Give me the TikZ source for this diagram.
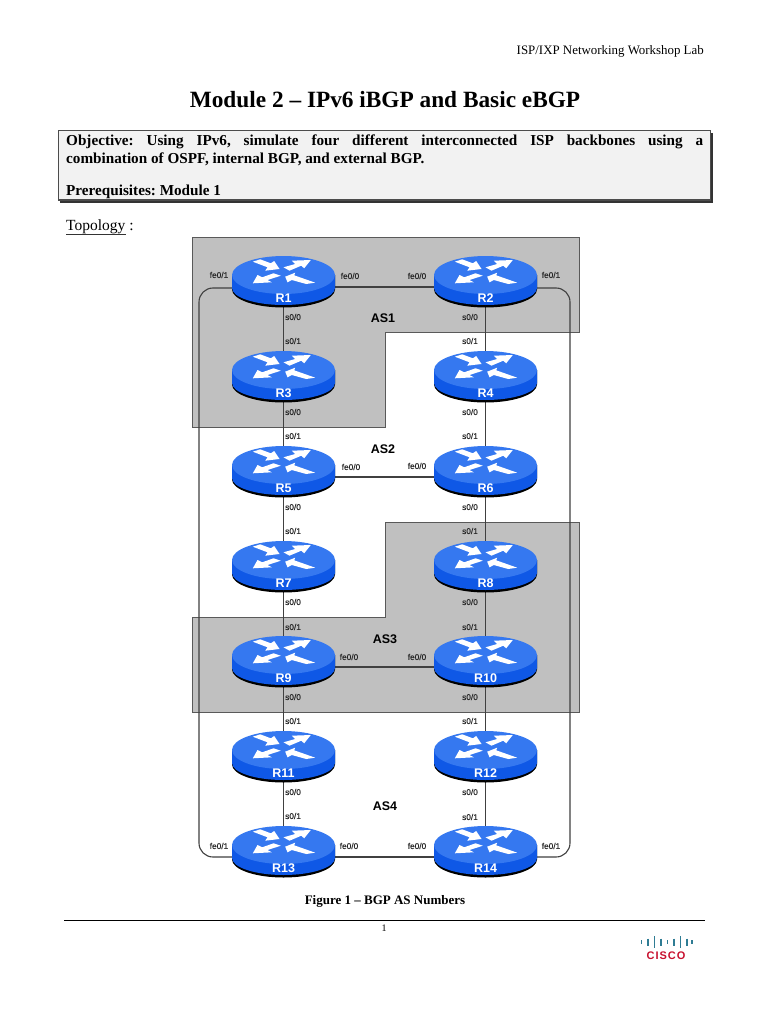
\documentclass[tikz,border=0pt]{standalone}
\usepackage{fontspec}
\setmainfont{Liberation Serif}
\setsansfont{Liberation Sans}
\newfontfamily\portfont[FakeBold=0.35]{Liberation Sans}
\newfontfamily\ciscofont[LetterSpace=9]{Liberation Sans}
\definecolor{asgray}{HTML}{C0C0C0}
\definecolor{astop}{HTML}{3578F0}
\definecolor{asside}{HTML}{0F58E6}
\definecolor{ciscoteal}{HTML}{2F7C94}
\definecolor{ciscored}{HTML}{C8102E}
\tikzset{
  hub/.style={minimum width=103pt,minimum height=50pt,inner sep=0pt},
  rlabel/.style={text=white,font=\sffamily\bfseries\fontsize{12.5}{13}\selectfont,inner sep=0pt},
  port/.style={font=\portfont\fontsize{8.3}{9}\selectfont,text=black!85,inner sep=0pt},
  asname/.style={font=\sffamily\bfseries\fontsize{12.5}{13}\selectfont,inner sep=0pt},
  asarea/.style={fill=asgray,draw=black!65,line width=1pt},
  link/.style={draw=black!75,line width=1.1pt},
  body/.style={font=\bfseries\fontsize{15.2}{16}\selectfont,inner sep=0pt,anchor=west},
  bar/.style={draw=ciscoteal,line width=1.7pt},
}
\newcommand{\drawrouter}[3]{% x, y, label
  \begin{scope}[shift={(#1,#2)}]
    \fill[black] (-51.5,13) -- (-51.5,14.5) arc[x radius=51.5,y radius=18,start angle=180,end angle=0] -- (51.5,0) -- cycle;
    \fill[asside] (-51.5,0) -- (-51.5,13) arc[x radius=51.5,y radius=17,start angle=180,end angle=0] -- (51.5,0) -- cycle;
    \fill[astop] (0,0) ellipse[x radius=51.5,y radius=19];
    \fill[white] (-30.7,-13.3) -- (-23.3,-15.7) -- (-12.7,-11.7) -- (-9.3,-14) -- (-4,-6) -- (-18.3,-4.3) -- (-16,-7.7) -- cycle;
    \fill[white] (0,-7.7) -- (11.7,-11) -- (8.3,-14.3) -- (27.3,-15) -- (20.7,-6.7) -- (17.7,-9.3) -- (6,-4.3) -- cycle;
    \fill[white] (-30.7,8.3) -- (-26,0) -- (-21.3,2.3) -- (-10,-1.7) -- (-2.7,0.7) -- (-16,5) -- (-11.7,7.3) -- cycle;
    \fill[white] (1.7,1.7) -- (11.7,-2.3) -- (10.7,0.3) -- (31.7,7.7) -- (22.7,9) -- (8.3,5) -- (4,7.3) -- cycle;
    \node[rlabel] (lbl#3) at (0,23.5) {#3};
  \end{scope}}
\begin{document}
\frenchspacing
\begin{tikzpicture}[x=1pt,y=-1pt]
\useasboundingbox (0,0) rectangle (768,1024);
\fill[white] (0,0) rectangle (768,1024);
% hub nodes
\foreach \n/\x/\y in {R1/283.5/275,R3/283.5/370,R5/283.5/465,R7/283.5/560,R9/283.5/655,R11/283.5/750,R13/283.5/845,
  R2/485.5/275,R4/485.5/370,R6/485.5/465,R8/485.5/560,R10/485.5/655,R12/485.5/750,R14/485.5/845}
  \node[hub] (\n) at (\x,\y+6) {};
% header
\node[anchor=east,inner sep=0pt,font=\fontsize{12.9}{14}\selectfont] (hdr) at (704,51) {ISP/IXP Networking Workshop Lab};
\node[inner sep=0pt,font=\bfseries\fontsize{23.3}{24}\selectfont] (title) at (385,100) {Module 2 – IPv6 iBGP and Basic eBGP};
% objective box
\fill[black!80] (60,133) rectangle (713,203);
\fill[black!70] (57.5,130.5) rectangle (711,201);
\fill[black!5] (58.5,131.5) rectangle (710,199.5);
\node[body] (obj1) at (66,142) {\makebox[637pt][s]{Objective: Using IPv6, simulate four different interconnected ISP backbones using a}};
\node[body] (obj2) at (66,159) {combination of OSPF, internal BGP, and external BGP.};
\node[body] (obj3) at (66,192) {Prerequisites: Module 1};
\node[anchor=west,inner sep=0pt,font=\fontsize{15.5}{16}\selectfont] (topo) at (66,227) {Topology :};
\draw[black!80,line width=0.6pt] (66,234) -- (126,234);
% AS areas
\path[asarea] (192,237) -- (579,237) -- (579,332) -- (385,332) -- (385,427) -- (192,427) -- cycle;
\path[asarea] (192,617) -- (385,617) -- (385,522) -- (579,522) -- (579,712) -- (192,712) -- cycle;
% ring and links
\draw[link,rounded corners=14pt] (R1.west |- 0,288) -- (199,288) -- (199,857) -- (R13.west |- 0,857);
\draw[link,rounded corners=14pt] (R2.east |- 0,288) -- (570,288) -- (570,857) -- (R14.east |- 0,857);
\draw[link] (R1.east |- 0,287) -- (R2.west |- 0,287);
\draw[link] (R5.east |- 0,477) -- (R6.west |- 0,477);
\draw[link] (R9.east |- 0,667) -- (R10.west |- 0,667);
\draw[link] (R13.east |- 0,857) -- (R14.west |- 0,857);
\foreach \a/\b in {R1/R3,R3/R5,R5/R7,R7/R9,R9/R11,R11/R13,R2/R4,R4/R6,R6/R8,R8/R10,R10/R12,R12/R14}
  \draw[link] (\a.south) -- (\b.north);
% routers
\foreach \n/\x/\y in {R1/283.5/275,R3/283.5/370,R5/283.5/465,R7/283.5/560,R9/283.5/655,R11/283.5/750,R13/283.5/845,
  R2/485.5/275,R4/485.5/370,R6/485.5/465,R8/485.5/560,R10/485.5/655,R12/485.5/750,R14/485.5/845}
  \drawrouter{\x}{\y}{\n};
% port labels
\foreach \t/\x/\y [count=\i] in {{fe0/1}/219/275,{fe0/0}/350/276,{fe0/0}/417/276,{fe0/1}/551/275,
  {fe0/0}/351/467,{fe0/0}/417/466,{fe0/0}/349/657,{fe0/0}/417/657,
  {fe0/1}/219/846,{fe0/0}/349/846,{fe0/0}/417/846,{fe0/1}/551/846}
  \node[port] (fe\i) at (\x,\y) {\t};
\foreach \y [count=\i] in {317,412,507,602,697,792}
  \node[port,anchor=west] (la\i) at (285,\y) {s0/0};
\foreach \y [count=\i] in {341,436,531,627,721,816}
  \node[port,anchor=west] (lb\i) at (285,\y) {s0/1};
\foreach \y [count=\i] in {317,412,507,602,697,792}
  \node[port] (ra\i) at (470,\y) {s0/0};
\foreach \y [count=\i] in {341,436,531,627,721,817}
  \node[port] (rb\i) at (470,\y) {s0/1};
% AS labels
\node[asname] (as1) at (383,318) {AS1};
\node[asname] (as2) at (383,449) {AS2};
\node[asname] (as3) at (385,639) {AS3};
\node[asname] (as4) at (385,806) {AS4};
% footer
\node[inner sep=0pt,font=\bfseries\fontsize{13}{14}\selectfont] (cap) at (385,901) {Figure 1 – BGP AS Numbers};
\draw[black,line width=0.9pt] (64,920) -- (705,920);
\node[inner sep=0pt,font=\fontsize{10}{11}\selectfont] (pg) at (384,928) {1};
% logo
\foreach \x/\h in {641.5/2,648/3.5,654.5/6,661/3.5,667.5/2,674/3.5,680.5/6,687/3.5,692/2}
  \draw[bar] (\x,942-\h) -- (\x,942+\h);
\node[inner sep=0pt,text=ciscored,font=\ciscofont\bfseries\fontsize{11}{11}\selectfont] (cisco) at (666,955.5) {CISCO};
\end{tikzpicture}
\end{document}
